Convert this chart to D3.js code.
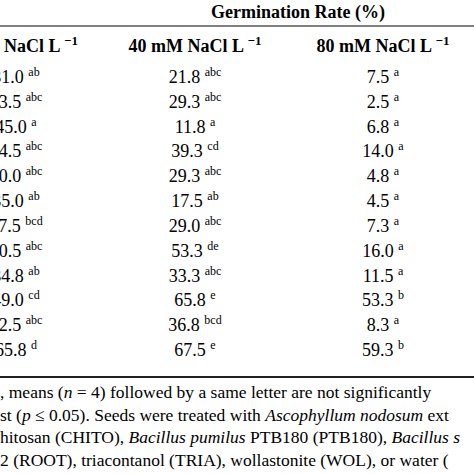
<!DOCTYPE html><html><head><meta charset="utf-8"><script src="https://cdn.jsdelivr.net/npm/d3@7"></script>
<style>body{margin:0;background:#fff}svg{display:block}</style></head><body><svg id="c" width="474" height="474"></svg>
<script>
const headers=["0 mM NaCl L","40 mM NaCl L","80 mM NaCl L"];
const col0=["31.0","33.5","45.0","34.5","30.0","35.0","37.5","30.5","34.8","49.0","32.5","65.8"];
const col0L=["ab","abc","a","abc","abc","ab","bcd","abc","ab","cd","abc","d"];
const col40=["21.8","29.3","11.8","39.3","29.3","17.5","29.0","53.3","33.3","65.8","36.8","67.5"];
const col40L=["abc","abc","a","cd","abc","ab","abc","de","abc","e","bcd","e"];
const col80=["7.5","2.5","6.8","14.0","4.8","4.5","7.3","16.0","11.5","53.3","8.3","59.3"];
const col80L=["a","a","a","a","a","a","a","a","a","b","a","b"];
const svg=d3.select("#c");
const F="'Liberation Serif','DejaVu Serif',serif";
const y=d3.scaleLinear().domain([0,11]).range([83,356]);
const xc=[16,195,383];
svg.append("text").attr("x",298).attr("y",18).attr("text-anchor","middle").attr("font-family",F).attr("font-weight","bold").attr("font-size",18).text("Germination Rate (%)");
svg.append("line").attr("x1",0).attr("x2",474).attr("y1",26).attr("y2",26).attr("stroke","#555").attr("stroke-width",1.5);
headers.forEach((h,i)=>{const t=svg.append("text").attr("x",xc[i]).attr("y",52).attr("text-anchor","middle").attr("font-family",F).attr("font-weight","bold").attr("font-size",18).text(h+" ");
t.append("tspan").attr("dy",-7).attr("font-size",13).text("−1");});
[[col0,col0L],[col40,col40L],[col80,col80L]].forEach(([v,l],i)=>{v.forEach((d,j)=>{const t=svg.append("text").attr("x",xc[i]).attr("y",y(j)).attr("text-anchor","middle").attr("font-family",F).attr("font-size",18).text(d+" ");
t.append("tspan").attr("dy",-7).attr("font-size",12).text(l[j]);});});
svg.append("line").attr("x1",0).attr("x2",474).attr("y1",377).attr("y2",377).attr("stroke","#222").attr("stroke-width",2);
const notes=[[", means (",["n"]," = 4) followed by a same letter are not significantly"],["st (",["p"]," ≤ 0.05). Seeds were treated with ",["Ascophyllum nodosum"]," ext"],["hitosan (CHITO), ",["Bacillus pumilus"]," PTB180 (PTB180), ",["Bacillus s"]],["2 (ROOT), triacontanol (TRIA), wollastonite (WOL), or water ("],["nching."]];
notes.forEach((parts,k)=>{const t=svg.append("text").attr("x",0).attr("y",398+k*22.5).attr("font-family",F).attr("font-size",17.5);
parts.forEach(p=>{if(Array.isArray(p))t.append("tspan").attr("font-style","italic").text(p[0]);else t.append("tspan").text(p);});});
</script></body></html>
